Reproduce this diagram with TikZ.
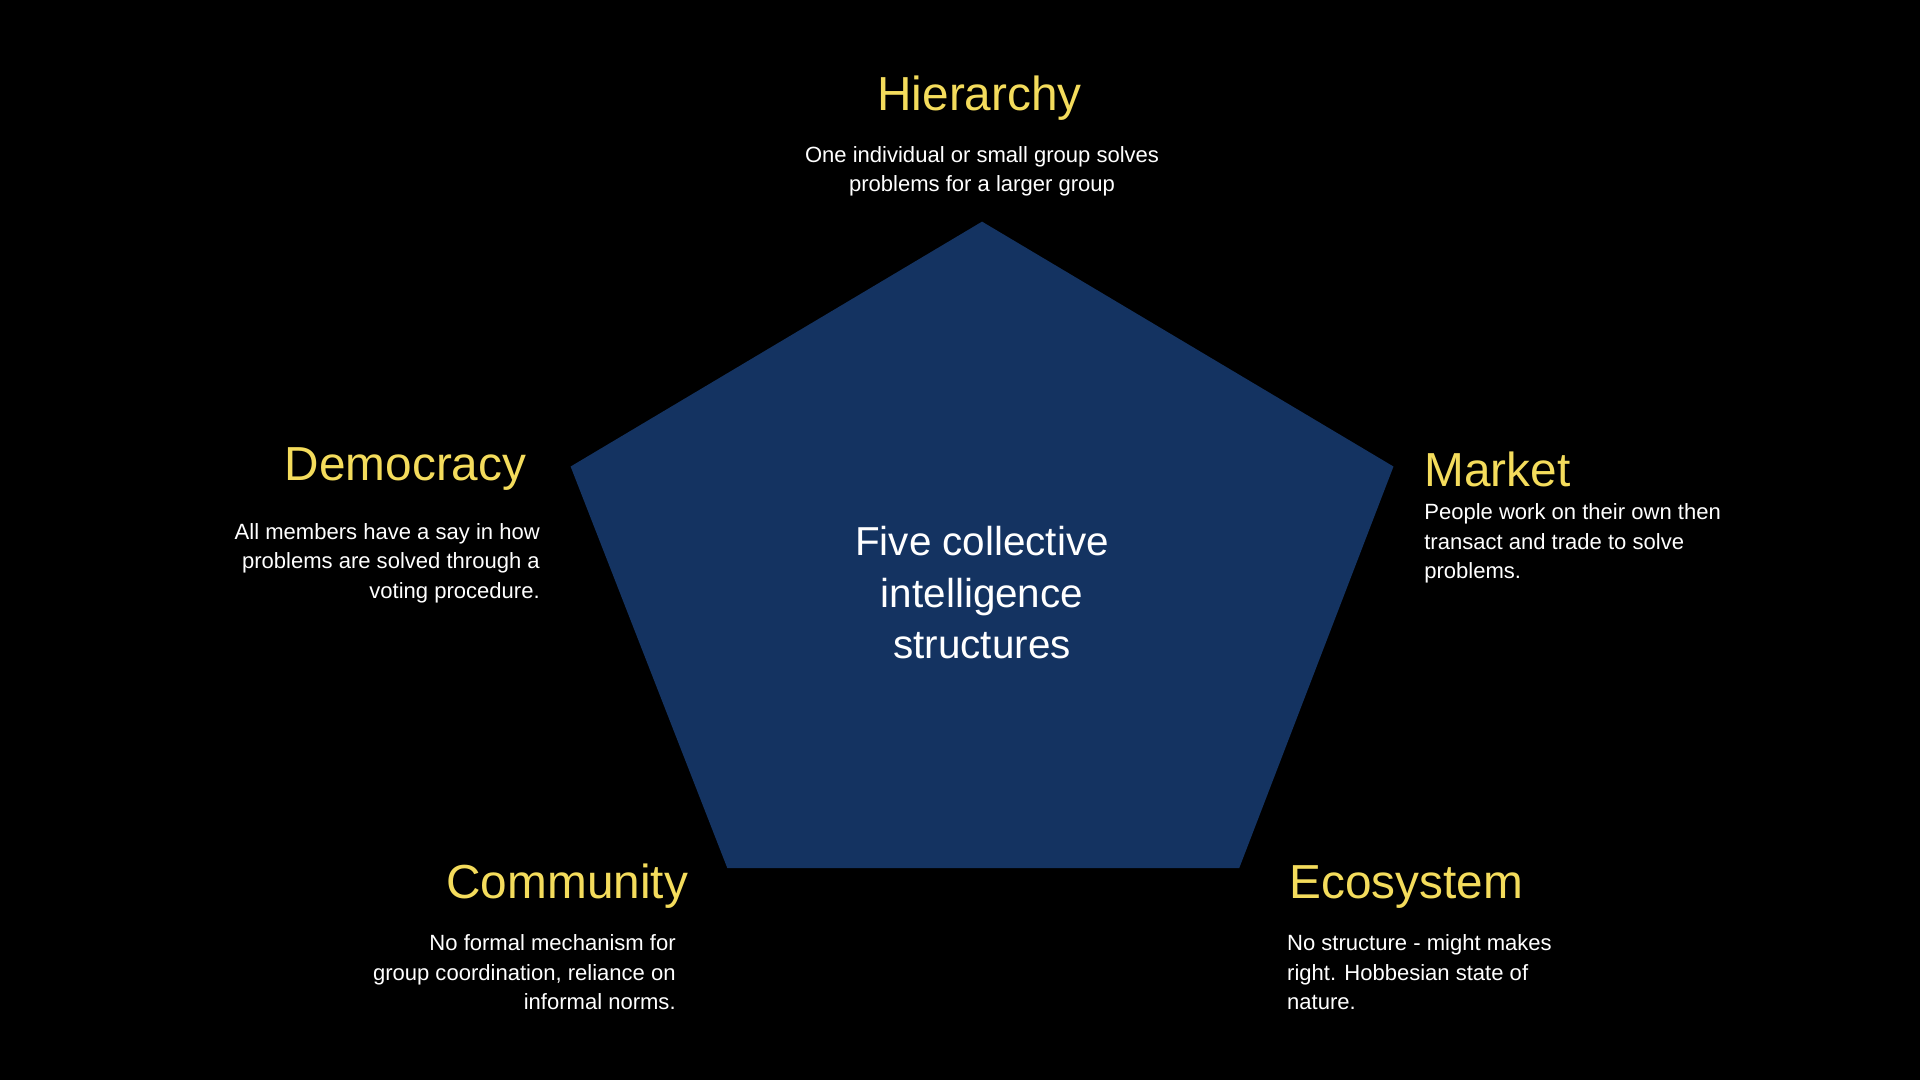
\documentclass[tikz,border=0pt]{standalone}
\usepackage{fontspec}
\setmainfont{Liberation Sans}
\definecolor{ttl}{HTML}{F4DC5C}
\definecolor{pent}{HTML}{143361}
\tikzset{
 title/.style={text=ttl,font=\fontsize{39}{44}\selectfont,inner sep=0pt},
 desc/.style={text=white,font=\fontsize{18}{24}\selectfont,inner sep=0pt},
 ctr/.style={text=white,font=\fontsize{33}{42}\selectfont,align=center,inner sep=0pt}
}
\begin{document}
\begin{tikzpicture}[x=1pt,y=-1pt]
\fill[black] (0,0) rectangle (1568,882);
\useasboundingbox (0,0) rectangle (1568,882);
\coordinate (t) at (802,181);
\coordinate (r) at (1138,381);
\coordinate (br) at (1012,709);
\coordinate (bl) at (594,709);
\coordinate (l) at (466,381);
\fill[pent] (t) -- (r) -- (br) -- (bl) -- (l) -- cycle;
\node[ctr] (c) at (802,484) {Five collective\\intelligence\\structures};
\node[title] (h) at (800,80) {Hierarchy};
\node[desc,align=center] (hd) at (802,140) {One individual or small group solves\\problems for a larger group};
\node[title,anchor=east] (d) at (430,383) {Democracy};
\node[desc,align=right,anchor=east] (dd) at (441,460) {All members have a say in how\\problems are solved through a\\voting procedure.};
\node[title,anchor=west] (m) at (1163,383) {Market};
\node[desc,align=left,anchor=west] (md) at (1163,444) {People work on their own then\\transact and trade to solve\\problems.};
\node[title,anchor=east] (cm) at (562,724) {Community};
\node[desc,align=right,anchor=east] (cmd) at (552,794) {No formal mechanism for\\group coordination, reliance on\\informal norms.};
\node[title,anchor=west] (e) at (1053,724) {Ecosystem};
\node[desc,align=left,anchor=west] (ed) at (1051,794) {No structure - might makes\\right. Hobbesian state of\\nature.};
\end{tikzpicture}
\end{document}
